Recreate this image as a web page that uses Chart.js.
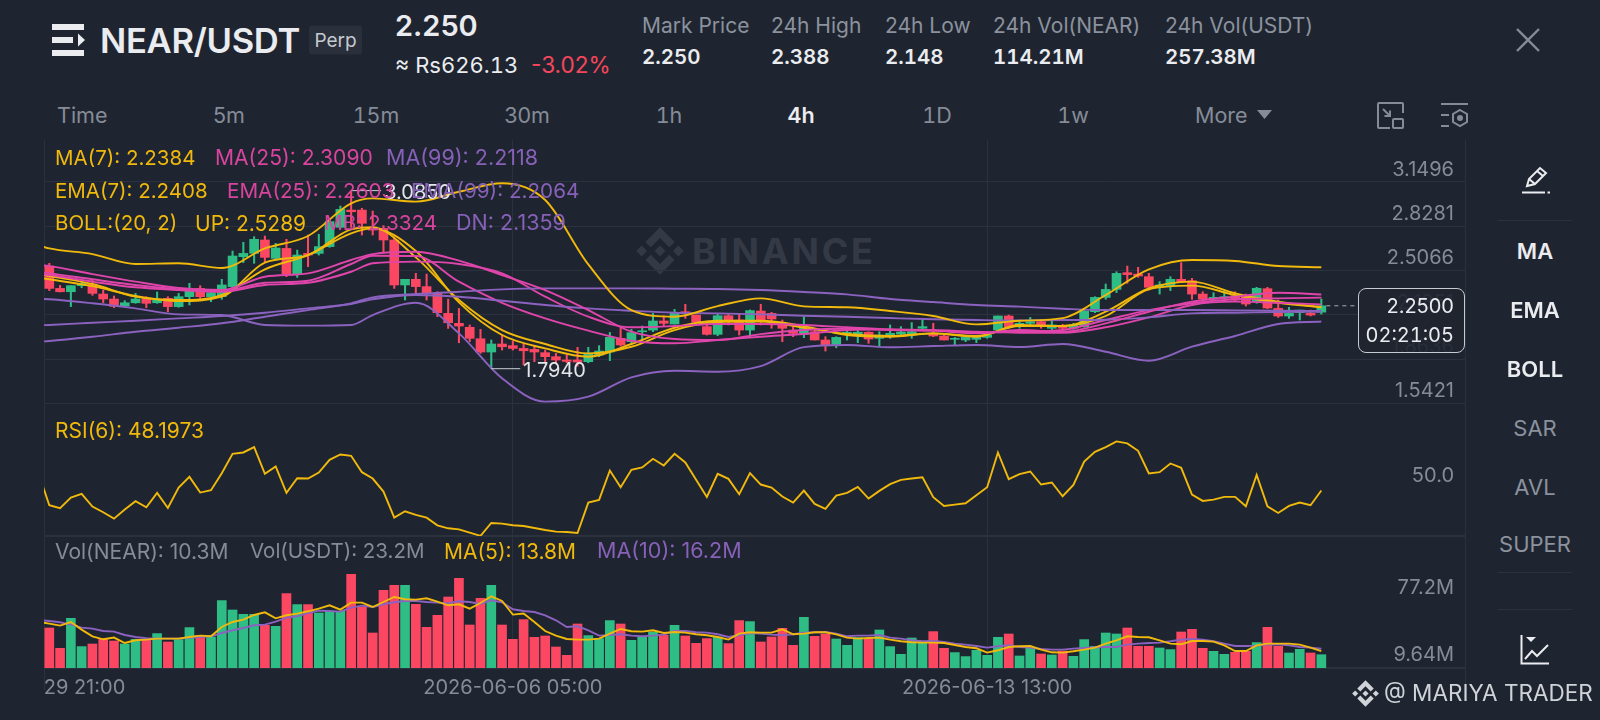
<!DOCTYPE html>
<html>
<head>
<meta charset="utf-8">
<title>NEAR/USDT Perp</title>
<script src="https://cdn.jsdelivr.net/npm/chart.js@4"></script>
<style>
html, body { margin: 0; padding: 0; background: #1f2530; }
body { width: 1600px; height: 720px; position: relative; overflow: hidden; font-family: Inter, "Noto Sans", sans-serif; color: #eaecef; }
canvas { position: absolute; left: 44px; z-index: 2; }
.t { position: absolute; white-space: nowrap; transform: translateY(-50%); z-index: 3; line-height: 1; }
.c { transform: translate(-50%, -50%); }
.tn { font-variant-numeric: tabular-nums; }
.tab { font-size: 21.5px; color: #858c98; top: 116px; }
.lab { font-size: 21px; color: #8b929e; top: 25px; }
.val { font-size: 20.5px; font-weight: 600; color: #eaecef; top: 57px; font-variant-numeric: tabular-nums; }
.leg { font-size: 20.7px; }
.side { font-size: 22px; left: 1535px; color: #8b929e; }
.on { color: #eaecef; font-weight: 600; }
.y { color: #f0b90b; } .p { color: #d9449f; } .u { color: #8760b8; } .g { color: #858c98; }
.ln { position: absolute; background: #2c323d; z-index: 1; }
svg { position: absolute; z-index: 3; }
</style>
</head>
<body>

<!-- watermark -->
<svg style="left:636px;top:227px;z-index:0" width="48" height="48" viewBox="0 0 126 126" fill="#343a45"><use href="#bn"/></svg>
<div class="t" style="left:692px;top:251px;font-size:36px;font-weight:700;color:#343a45;letter-spacing:2.8px;z-index:0">BINANCE</div>

<!-- header -->
<svg style="left:52px;top:24px" width="33" height="33" viewBox="0 0 33 33" fill="#eaecef">
  <rect x="0" y="0" width="32" height="6"/><rect x="0" y="13" width="21" height="6"/><rect x="0" y="26" width="32" height="6"/>
  <polygon points="26,9.5 33,16 26,22.5"/>
</svg>
<div class="t" style="left:100px;top:40px;font-size:34.600px;font-weight:600;color:#eaecef;letter-spacing:-.3px">NEAR/USDT</div>
<div class="t" style="left:309px;top:40px;width:53px;height:29px;background:#2a303b;border-radius:3px;font-size:19px;color:#c5c9d0;line-height:29px;text-align:center">Perp</div>
<div class="t" style="left:395px;top:25px;font-size:29px;font-weight:600">2.250</div>
<div class="t tn" style="left:395px;top:65px;font-size:22px">≈ Rs626.13</div>
<div class="t" style="left:531px;top:65px;font-size:22.600px;color:#f6465d">-3.02%</div>

<div class="t lab" style="left:642px">Mark Price</div><div class="t val" style="left:642px">2.250</div>
<div class="t lab" style="left:771px">24h High</div><div class="t val" style="left:771px">2.388</div>
<div class="t lab" style="left:885px">24h Low</div><div class="t val" style="left:885px">2.148</div>
<div class="t lab" style="left:993px">24h Vol(NEAR)</div><div class="t val" style="left:993px">114.21M</div>
<div class="t lab" style="left:1165px">24h Vol(USDT)</div><div class="t val" style="left:1165px">257.38M</div>

<svg style="left:1516px;top:28px" width="24" height="24" viewBox="0 0 24 24" stroke="#858c98" stroke-width="2.4" fill="none"><path d="M1 1L23 23M23 1L1 23"/></svg>

<!-- interval tabs -->
<div class="t tab" style="left:57px">Time</div>
<div class="t tab c" style="left:229px">5m</div>
<div class="t tab c tn" style="left:376px">15m</div>
<div class="t tab c" style="left:527px">30m</div>
<div class="t tab c tn" style="left:669px">1h</div>
<div class="t tab c" style="left:801px;color:#eaecef;font-weight:600">4h</div>
<div class="t tab c tn" style="left:937px">1D</div>
<div class="t tab c tn" style="left:1073px">1w</div>
<div class="t tab" style="left:1195px">More</div>
<svg style="left:1257px;top:110px" width="15" height="10" viewBox="0 0 15 10" fill="#858c98"><polygon points="0,0 15,0 7.5,9"/></svg>
<svg style="left:1377px;top:102px" width="27" height="27" viewBox="0 0 27 27" stroke="#858c98" stroke-width="2" fill="none">
  <path d="M13 1H2a1 1 0 0 0-1 1v23a1 1 0 0 0 1 1h11M13 1H25a1 1 0 0 1 1 1v9M6 7l7 7M13 8.500v5.500H7.500"/><rect x="16" y="17" width="10" height="9" rx="1"/>
</svg>
<svg style="left:1440px;top:102px" width="29" height="27" viewBox="0 0 29 27" stroke="#858c98" stroke-width="2" fill="none">
  <path d="M1 2H28M1 13H9M1 24H9M20 8l7 4v8l-7 4-7-4v-8z"/><circle cx="20" cy="16" r="2" fill="#858c98"/>
</svg>

<!-- pane frame -->
<div class="ln" style="left:44px;top:140px;width:1px;height:550px"></div>
<div class="ln" style="left:1465px;top:140px;width:1px;height:545px"></div>
<div class="ln" style="left:44px;top:535px;width:1421px;height:2px"></div>
<div class="ln" style="left:44px;top:667px;width:1421px;height:2px"></div>

<canvas id="priceChart" style="top:140px" width="1422" height="264"></canvas>
<canvas id="rsiChart" style="top:404px" width="1422" height="132"></canvas>
<canvas id="volChart" style="top:536px" width="1422" height="164"></canvas>

<!-- indicator legends -->
<div class="t leg y" style="left:55px;top:158px;font-size:20.500px">MA(7): 2.2384</div>
<div class="t leg p" style="left:215px;top:158px;font-size:21.100px">MA(25): 2.3090</div>
<div class="t leg u" style="left:386px;top:158px;font-size:21.500px">MA(99): 2.2118</div>
<div class="t leg y" style="left:55px;top:191px;font-size:20.500px">EMA(7): 2.2408</div>
<div class="t leg p" style="left:227px;top:191px">EMA(25): 2.2603</div>
<div class="t leg u" style="left:411px;top:191px">EMA(99): 2.2064</div>
<div class="t leg y" style="left:55px;top:223px;font-size:20.500px">BOLL:(20, 2)</div>
<div class="t leg y" style="left:195px;top:223px;font-size:21px">UP: 2.5289</div>
<div class="t leg p" style="left:324px;top:223px">MB: 2.3324</div>
<div class="t leg u" style="left:456px;top:223px;font-size:21.500px">DN: 2.1359</div>
<div class="t leg y" style="left:55px;top:430px;font-size:21px">RSI(6): 48.1973</div>
<div class="t leg g" style="left:55px;top:551px;font-size:21px">Vol(NEAR): 10.3M</div>
<div class="t leg g" style="left:250px;top:551px;font-size:20.500px">Vol(USDT): 23.2M</div>
<div class="t leg y" style="left:444px;top:551px;font-size:21px">MA(5): 13.8M</div>
<div class="t leg u" style="left:597px;top:551px;font-size:21.500px">MA(10): 16.2M</div>

<!-- current price box -->
<div style="position:absolute;left:1358px;top:288px;width:105px;height:63px;border:1px solid #c7cbd1;border-radius:8px;background:rgba(31,37,48,.9);z-index:3"></div>
<div class="t" style="right:146px;top:306px;font-size:20px">2.2500</div>
<div class="t tn" style="right:146px;top:335px;font-size:20px">02:21:05</div>

<!-- right side menu -->
<svg style="left:1522px;top:166px" width="28" height="28" viewBox="0 0 28 28" stroke="#eaecef" stroke-width="2" fill="none">
  <path d="M5 20l2-7L18 2l6 5L13 18z M7 13l6 5 M15 5l6 5"/><path d="M0 26.500H23M25.500 26.500H28" stroke-width="2.200"/>
</svg>
<div class="ln" style="left:1498px;top:220px;width:74px;height:1px"></div>
<div class="t side c on" style="top:251px">MA</div>
<div class="t side c on" style="top:310px">EMA</div>
<div class="t side c on" style="top:369px">BOLL</div>
<div class="t side c" style="top:428px">SAR</div>
<div class="t side c" style="top:487px">AVL</div>
<div class="t side c" style="top:544px">SUPER</div>
<div class="ln" style="left:1498px;top:572px;width:74px;height:1px"></div>
<div class="ln" style="left:1498px;top:609px;width:74px;height:1px"></div>
<svg style="left:1520px;top:635px" width="30" height="30" viewBox="0 0 30 30" stroke="#eaecef" stroke-width="2" fill="none">
  <path d="M1.500 0V28.500H29"/><path d="M5 24l7-8 5 5 11-11"/><polygon points="6,2 16,2 11,7" fill="#eaecef" stroke="none"/>
</svg>

<!-- bottom watermark -->
<svg style="left:1352px;top:680px" width="27" height="27" viewBox="0 0 126 126" fill="#d0d3d8">
  <symbol id="bn" viewBox="0 0 126 126"><path d="M38.730 53.200L63 28.930l24.280 24.280 14.120-14.120L63 .690 24.610 39.090zM.670 63l14.120-14.120L28.910 63 14.790 77.120zM38.730 72.800L63 97.070l24.280-24.280 14.130 14.110L63 125.310 24.610 86.910l-.020-.020zM97.090 63l14.120-14.120L125.330 63l-14.120 14.120zM77.320 63L63 48.680 52.410 59.270l-1.220 1.220-2.500 2.500L63 77.320z"/></symbol>
  <use href="#bn"/>
</svg>
<div class="t" style="left:1384px;top:693px;font-size:22.500px;color:#d0d3d8">@ MARIYA TRADER</div>

<script>
// candles, oldest first
const opens = [
  2.538,2.376,2.352,2.396,2.408,2.335,2.299,2.248,2.272,2.299,
  2.272,2.304,2.244,2.316,2.376,2.316,2.316,2.389,2.606,2.630,
  2.727,2.594,2.666,2.480,2.630,2.630,2.679,2.819,2.944,2.944,
  2.819,2.811,2.727,2.401,2.442,2.389,2.340,2.195,2.123,2.094,
  2.011,1.915,1.973,1.961,1.941,1.934,1.910,1.881,1.857,1.857,
  1.845,1.893,1.915,2.014,1.990,2.062,2.074,2.140,2.118,2.207,
  2.183,2.099,2.043,2.178,2.147,2.074,2.212,2.195,2.116,2.074,
  2.043,2.062,2.002,1.966,2.050,2.038,2.058,2.014,2.036,2.045,
  2.045,2.087,2.050,2.031,2.007,2.002,2.007,2.021,2.074,2.176,
  2.099,2.123,2.135,2.087,2.099,2.087,2.099,2.207,2.311,2.369,
  2.490,2.480,2.461,2.389,2.393,2.442,2.432,2.335,2.299,2.306,
  2.323,2.316,2.280,2.374,2.231,2.176,2.200,2.195,2.204
];
const highs = [
  2.558,2.398,2.396,2.437,2.437,2.364,2.321,2.287,2.340,2.316,
  2.350,2.316,2.340,2.413,2.396,2.364,2.442,2.647,2.710,2.751,
  2.756,2.703,2.732,2.654,2.763,2.768,2.872,2.973,3.085,2.957,
  2.937,2.831,2.751,2.442,2.485,2.480,2.352,2.299,2.231,2.111,
  2.079,2.002,2.038,1.995,1.973,1.958,1.929,1.905,1.893,1.949,
  1.949,1.961,2.057,2.086,2.079,2.103,2.195,2.178,2.224,2.261,
  2.183,2.135,2.195,2.195,2.188,2.220,2.261,2.203,2.147,2.099,
  2.171,2.087,2.026,2.026,2.067,2.075,2.062,2.062,2.111,2.099,
  2.128,2.152,2.123,2.038,2.021,2.026,2.026,2.045,2.176,2.183,
  2.135,2.166,2.147,2.147,2.116,2.123,2.219,2.316,2.408,2.497,
  2.538,2.529,2.485,2.425,2.461,2.563,2.449,2.352,2.345,2.360,
  2.352,2.335,2.384,2.384,2.292,2.239,2.219,2.219,2.299
];
const lows = [
  2.360,2.350,2.244,2.381,2.326,2.272,2.236,2.244,2.268,2.236,
  2.268,2.207,2.239,2.256,2.287,2.280,2.297,2.376,2.563,2.558,
  2.563,2.582,2.461,2.456,2.534,2.618,2.674,2.811,2.819,2.763,
  2.763,2.635,2.376,2.292,2.340,2.292,2.171,2.086,1.982,1.990,
  1.905,1.794,1.929,1.929,1.821,1.845,1.837,1.837,1.837,1.813,
  1.837,1.881,1.852,1.958,1.978,2.002,2.062,2.103,2.118,2.159,
  2.123,2.038,2.033,2.111,2.038,2.026,2.111,2.087,1.990,2.026,
  2.019,2.002,1.922,1.946,2.002,1.983,1.978,1.954,2.014,2.026,
  2.014,2.079,2.026,2.002,1.966,1.990,1.983,2.014,2.062,2.087,
  2.087,2.099,2.087,2.074,2.074,2.079,2.094,2.200,2.297,2.345,
  2.413,2.456,2.364,2.335,2.360,2.418,2.297,2.280,2.287,2.292,
  2.280,2.248,2.268,2.229,2.166,2.159,2.147,2.176,2.190
];
const closes = [
  2.376,2.352,2.396,2.413,2.340,2.299,2.246,2.272,2.299,2.268,
  2.292,2.244,2.316,2.364,2.316,2.345,2.401,2.611,2.630,2.732,
  2.601,2.669,2.480,2.618,2.618,2.679,2.860,2.949,2.932,2.848,
  2.799,2.727,2.401,2.442,2.389,2.340,2.200,2.127,2.103,2.014,
  1.915,1.973,1.953,1.941,1.924,1.915,1.881,1.857,1.847,1.842,
  1.905,1.922,2.021,1.966,2.055,2.069,2.140,2.123,2.200,2.198,
  2.130,2.043,2.178,2.147,2.074,2.215,2.147,2.154,2.087,2.050,
  2.087,2.002,1.966,2.021,2.058,2.058,2.009,2.038,2.050,2.060,
  2.062,2.099,2.031,2.002,2.014,2.021,2.021,2.038,2.176,2.099,
  2.123,2.135,2.099,2.111,2.087,2.111,2.212,2.311,2.369,2.485,
  2.476,2.466,2.384,2.401,2.442,2.425,2.335,2.299,2.311,2.316,
  2.292,2.263,2.377,2.234,2.176,2.195,2.219,2.183,2.250
];

// the overlay lines were read at these candle positions
const lineIdx = [-1,0,4,8,12,16,20,24,28,30,34,38,42,46,50,54,58,62,66,70,74,78,82,86,90,94,98,102,106,110,114,118];
const ma7 = [2.480,2.466,2.408,2.316,2.292,2.328,2.514,2.618,2.775,2.811,2.647,2.275,2.038,1.941,1.881,1.973,2.091,2.142,2.142,2.103,2.038,2.026,2.050,2.026,2.111,2.103,2.207,2.376,2.425,2.340,2.280,2.238];
const ema7 = [2.455,2.442,2.393,2.321,2.285,2.316,2.563,2.618,2.804,2.819,2.601,2.292,2.074,1.973,1.905,1.953,2.074,2.132,2.135,2.091,2.045,2.031,2.050,2.031,2.103,2.103,2.176,2.369,2.396,2.328,2.272,2.241];
const ma25 = [2.480,2.473,2.425,2.384,2.364,2.352,2.401,2.417,2.497,2.558,2.570,2.553,2.485,2.316,2.171,2.094,2.103,2.118,2.118,2.111,2.094,2.079,2.070,2.055,2.062,2.074,2.147,2.219,2.268,2.297,2.304,2.309];
const ema25 = [2.492,2.485,2.442,2.401,2.369,2.357,2.417,2.432,2.553,2.613,2.611,2.425,2.272,2.159,2.070,1.997,1.978,2.002,2.026,2.045,2.074,2.079,2.074,2.062,2.055,2.055,2.094,2.166,2.256,2.280,2.272,2.260];
const ma99 = [1.990,1.995,2.026,2.062,2.091,2.123,2.171,2.219,2.268,2.311,2.335,2.352,2.369,2.376,2.376,2.376,2.374,2.372,2.364,2.350,2.333,2.299,2.277,2.256,2.244,2.229,2.219,2.219,2.219,2.217,2.215,2.212];
const ema99 = [2.108,2.111,2.127,2.142,2.159,2.176,2.200,2.231,2.263,2.297,2.328,2.316,2.287,2.256,2.231,2.214,2.200,2.195,2.188,2.178,2.171,2.161,2.152,2.147,2.144,2.147,2.149,2.166,2.195,2.200,2.205,2.206];
const bollUp = [2.690,2.666,2.625,2.553,2.558,2.524,2.666,2.756,2.993,3.029,3.005,3.077,3.138,3.017,2.550,2.219,2.171,2.248,2.304,2.246,2.239,2.212,2.176,2.115,2.142,2.161,2.328,2.514,2.582,2.575,2.538,2.529];
const bollMb = [2.545,2.538,2.480,2.425,2.379,2.364,2.461,2.485,2.582,2.625,2.642,2.577,2.473,2.364,2.219,2.062,2.009,2.002,2.045,2.074,2.084,2.074,2.070,2.050,2.074,2.062,2.123,2.207,2.280,2.316,2.345,2.332];
const bollDn = [2.300,2.297,2.268,2.231,2.188,2.183,2.111,2.106,2.111,2.183,2.272,2.050,1.724,1.555,1.591,1.731,1.779,1.772,1.813,1.950,1.966,1.949,1.958,1.966,1.951,1.973,1.917,1.852,1.954,2.031,2.118,2.136];

// first entry of these three sits one candle left of the visible pane
const rsi6 = [
  58.6,39.4,37.6,44.0,46.2,38.6,35.2,31.4,36.8,41.8,38.2,46.8,37.8,50.0,56.4,47.0,48.4,58.6,70.2,71.0,
  74.2,58.2,62.6,46.8,55.6,55.4,59.0,66.6,69.8,69.0,59.2,55.4,47.6,32.0,35.8,33.6,32.0,27.4,25.6,25.0,
  23.0,21.1,28.8,28.4,27.4,27.0,25.8,24.6,23.6,23.4,22.8,41.0,42.6,60.2,50.2,60.6,62.0,67.2,63.2,70.2,
  65.0,54.6,44.4,58.2,55.2,46.0,58.6,51.8,50.0,44.6,41.0,48.2,40.2,37.2,45.2,46.8,50.4,43.4,48.0,52.0,
  54.6,55.4,56.2,44.2,39.0,39.8,40.6,45.4,50.2,71.0,55.0,58.0,59.6,51.8,53.0,44.8,51.6,65.6,71.4,74.2,
  77.6,76.4,72.0,58.4,59.2,64.4,61.8,45.8,42.0,42.8,44.4,44.4,38.8,57.6,38.8,34.8,39.0,41.0,39.4,48.2
];
const volMa5 = [
  43.0,41.4,39.4,43.0,35.4,28.7,25.7,27.4,22.0,24.7,25.4,26.4,26.4,26.4,28.0,29.4,28.7,38.0,43.0,45.4,
  50.0,52.7,46.7,49.7,51.4,53.7,56.4,59.7,55.4,62.4,62.4,58.0,63.0,68.0,65.7,65.4,66.7,63.4,59.7,60.7,
  56.4,62.0,68.7,64.0,50.4,51.4,43.0,34.0,29.4,26.0,25.4,25.4,26.4,31.4,36.0,33.7,33.4,34.7,32.0,33.0,
  32.4,30.7,29.7,28.0,25.4,31.4,32.7,32.4,32.4,35.7,30.7,31.4,32.7,32.7,30.7,27.4,26.4,27.0,27.4,25.4,
  23.7,22.7,22.4,22.4,22.0,20.0,18.0,16.7,12.4,14.7,18.0,18.7,19.0,15.4,12.7,12.4,13.7,15.4,17.4,21.4,
  24.7,28.7,28.0,27.7,24.7,21.4,20.7,24.0,24.0,23.4,19.7,14.0,14.0,19.7,21.4,21.4,21.4,20.4,17.4,13.8
];
const volMa10 = [
  45.0,44.0,42.7,40.4,37.4,36.4,34.0,33.4,30.0,28.0,26.7,26.4,26.4,26.4,27.4,28.0,28.7,32.0,34.7,37.0,
  39.7,40.4,43.4,47.4,48.7,52.0,54.4,54.0,53.4,57.4,59.4,58.0,60.7,62.7,64.0,64.0,63.0,62.4,61.7,63.7,
  63.0,61.0,64.7,62.7,55.7,54.0,53.0,49.7,44.7,38.0,38.7,34.7,29.4,30.0,30.7,29.4,28.7,29.4,30.4,34.0,
  34.0,32.7,32.4,30.7,28.0,29.7,32.0,31.4,30.4,29.7,30.7,32.4,32.7,33.0,31.4,28.7,29.4,29.4,30.0,27.4,
  26.4,24.7,23.7,24.0,23.0,21.4,20.4,19.0,17.4,18.7,19.7,18.0,17.4,16.0,15.4,15.4,16.4,17.0,17.7,18.0,
  18.0,20.4,21.4,22.0,22.4,23.7,25.4,26.0,25.4,23.7,21.4,19.0,19.0,19.4,20.4,20.7,19.7,18.0,17.4,16.2
];
const volumes = [
  37.0,16.7,46.7,18.4,21.0,26.0,24.0,21.0,25.7,25.7,31.4,23.0,25.4,37.4,29.7,28.0,64.4,55.0,50.7,50.7,
  39.7,38.7,71.4,60.4,60.4,52.0,53.7,53.7,90.7,58.0,32.0,74.7,79.7,79.7,60.7,37.7,49.7,68.0,86.7,40.0,
  66.7,79.7,40.0,25.7,45.4,27.7,29.0,18.0,9.7,41.0,29.4,26.4,44.4,41.0,24.7,27.7,33.0,29.7,39.7,
  29.0,21.7,26.4,28.0,21.4,44.4,43.4,23.0,28.0,36.7,19.7,47.7,28.7,31.0,26.0,19.7,27.4,26.4,35.0,18.4,
  10.7,27.0,22.0,33.4,16.7,12.4,8.4,14.7,9.7,27.7,31.0,9.0,17.0,11.0,10.0,14.0,8.7,25.4,18.7,32.0,
  31.0,37.0,18.7,18.7,17.0,15.4,33.0,35.7,16.7,13.7,10.7,12.7,13.7,22.4,37.7,18.7,12.0,15.7,12.0,10.3
];

const priceTicks = [3.1496, 2.8281, 2.5066, 2.1851, 1.8636, 1.5421];
const rsiTicks = [50];
const volTicks = [77.2, 9.64];
const timeTicks = [-1, 43, 87];
const timeLabels = ['2026-05-29 21:00', '2026-06-06 05:00', '2026-06-13 13:00'];

const green = '#2ebd85', red = '#fb4762';
const yellow = '#f0b90b', pink = '#e045ab', purple = '#8b62c0';
const gridColor = '#2c323d', tickColor = '#858c98';
const tickFont = { family: 'Inter', size: 20 };

const candleColors = closes.map((c, i) => c >= opens[i] ? green : red);

function xAxis(showLabels) {
  return {
    type: 'linear', min: -0.4917, max: 131.42, offset: false,
    border: { display: false },
    grid: { color: gridColor, offset: false, drawTicks: false },
    afterBuildTicks: s => { s.ticks = timeTicks.map(v => ({ value: v })); },
    afterFit: s => { s.paddingLeft = 0; s.paddingRight = 0; s.height = showLabels ? 32 : 0; },
    ticks: {
      display: showLabels, autoSkip: false, maxRotation: 0, padding: 8, color: tickColor, font: tickFont,
      callback: v => timeLabels[timeTicks.indexOf(v)]
    }
  };
}

// mirrored labels are placed from the axis' own edge, hence the negative padding
function yAxis(min, max, values, labelOffset, showGrid, fmt) {
  return {
    position: 'right', min: min, max: max,
    border: { display: false },
    grid: { display: showGrid, color: gridColor, drawTicks: false },
    afterBuildTicks: s => { s.ticks = values.map(v => ({ value: v })); },
    afterFit: s => { s.width = 0; s.paddingTop = 0; s.paddingBottom = 0; },
    ticks: { mirror: true, padding: -12, labelOffset: labelOffset, color: tickColor, font: tickFont, callback: fmt }
  };
}

function line(values, color, xs) {
  return {
    type: 'line', data: values.map((v, k) => ({ x: xs[k], y: v })),
    borderColor: color, borderWidth: 1.9, pointRadius: 0, order: 1,
    cubicInterpolationMode: 'monotone'
  };
}

const baseOptions = {
  responsive: false, animation: false, events: [],
  plugins: { legend: { display: false }, tooltip: { enabled: false } },
  layout: { padding: 0 }
};

// draws the high / low tags and the dashed last price line
const priceMarks = {
  id: 'priceMarks',
  afterDatasetsDraw(chart) {
    const { ctx, scales: { x, y } } = chart;
    const hi = Math.max(...highs), lo = Math.min(...lows);
    const tag = (value, i, dx) => {
      const px = x.getPixelForValue(i), py = y.getPixelForValue(value);
      ctx.strokeStyle = '#c9ccd2'; ctx.lineWidth = 1;
      ctx.beginPath(); ctx.moveTo(px, py); ctx.lineTo(px + dx, py); ctx.stroke();
      ctx.fillStyle = '#e4e6ea'; ctx.font = '20px Inter'; ctx.textBaseline = 'middle'; ctx.textAlign = 'left';
      ctx.fillText(value.toFixed(4), px + dx + 3, py + 2);
    };
    ctx.save();
    tag(hi, highs.indexOf(hi), 30);
    tag(lo, lows.indexOf(lo), 29);
    const last = closes.length - 1, ly = y.getPixelForValue(closes[last]);
    ctx.strokeStyle = '#a9aeb6'; ctx.setLineDash([4, 4]);
    ctx.beginPath(); ctx.moveTo(x.getPixelForValue(last) + 5, ly); ctx.lineTo(1314, ly); ctx.stroke();
    ctx.restore();
  }
};

const idx = opens.map((_, i) => i);
const shifted = rsi6.map((_, k) => k - 1);

new Chart(document.getElementById('priceChart'), {
  type: 'bar',
  plugins: [priceMarks],
  data: {
    datasets: [
      { data: idx.map(i => ({ x: i, y: [lows[i], highs[i]] })), backgroundColor: candleColors, barThickness: 1.4, grouped: false, order: 3 },
      { data: idx.map(i => ({ x: i, y: [opens[i], closes[i]] })), backgroundColor: candleColors, barThickness: 9, grouped: false, order: 2 },
      line(bollUp, yellow, lineIdx), line(bollMb, pink, lineIdx), line(bollDn, purple, lineIdx),
      line(ma99, purple, lineIdx), line(ema99, purple, lineIdx),
      line(ma25, pink, lineIdx), line(ema25, pink, lineIdx),
      line(ma7, yellow, lineIdx), line(ema7, yellow, lineIdx)
    ]
  },
  options: {
    ...baseOptions,
    scales: {
      x: xAxis(false),
      y: yAxis(1.538, 3.452, priceTicks, -12, true, v => v.toFixed(4))
    }
  }
});

new Chart(document.getElementById('rsiChart'), {
  type: 'line',
  data: { datasets: [{ ...line(rsi6, yellow, shifted), cubicInterpolationMode: 'default', tension: 0 }] },
  options: {
    ...baseOptions,
    scales: {
      x: xAxis(false),
      y: yAxis(21, 100, rsiTicks, -12, false, v => v.toFixed(1))
    }
  }
});

new Chart(document.getElementById('volChart'), {
  type: 'bar',
  data: {
    datasets: [
      { data: idx.map(i => ({ x: i, y: volumes[i] })), backgroundColor: candleColors, barThickness: 9, base: -3, order: 2 },
      { ...line(volMa5, yellow, shifted), cubicInterpolationMode: 'default', tension: 0 },
      { ...line(volMa10, purple, shifted), cubicInterpolationMode: 'default', tension: 0 }
    ]
  },
  options: {
    ...baseOptions,
    scales: {
      x: xAxis(true),
      y: yAxis(-3, 129, volTicks, 0, false, v => v + 'M')
    }
  }
});
</script>
</body>
</html>
